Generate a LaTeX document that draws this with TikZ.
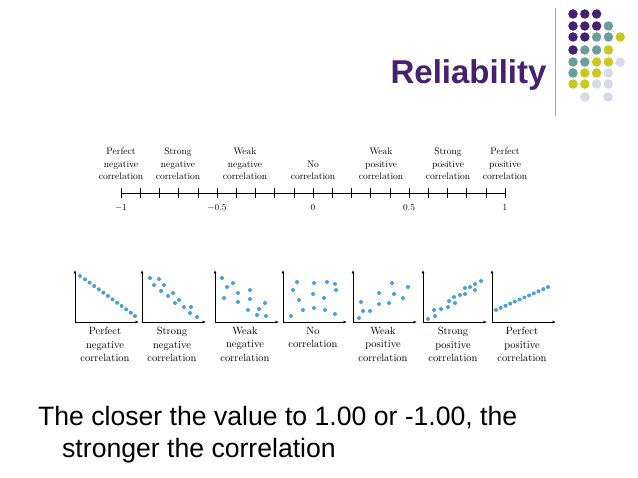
\documentclass[tikz,border=0pt]{standalone}
\usepackage{fontspec}
\newfontfamily\arialf{Liberation Sans}
\usetikzlibrary{arrows.meta}
\definecolor{pur}{HTML}{46216F}
\definecolor{teal}{HTML}{6A9E9E}
\definecolor{yel}{HTML}{C8C81E}
\definecolor{lav}{HTML}{D8D8EA}
\definecolor{dotb}{HTML}{4A9FD5}
\tikzset{
  lab/.style={font=\fontsize{9.5}{12.5}\selectfont, align=center, inner sep=0},
  slab/.style={font=\fontsize{10.5}{13.5}\selectfont, align=center, inner sep=0},
  sdot/.style={fill=dotb, draw=none},
  ax/.style={line width=0.7pt, -{Latex[length=3.5pt,width=3pt]}},
  gdot/.style={circle, inner sep=0, minimum size=9.5pt, draw=none}
}
\begin{document}
\begin{tikzpicture}[x=1pt,y=-1pt]
\useasboundingbox (0,0) rectangle (638,478);
% grid of dots
\foreach \r/\y/\cols in {1/14/{pur,pur,pur},2/26/{pur,pur,pur,teal},3/37/{pur,pur,teal,teal,yel},4/50/{pur,teal,teal,yel},5/62/{teal,teal,yel,yel,lav},6/73/{teal,yel,yel,lav},7/84/{yel,yel,lav,lav}}{
  \foreach \c [count=\i] in \cols {\node[gdot, fill=\c] (g\r\i) at ({573+11.8*(\i-1)},\y) {};}}
\node[gdot, fill=lav] (g82) at (585,97) {};
\node[gdot, fill=lav] (g84) at (608,97) {};
\coordinate (vt) at (555,8); \coordinate (vb) at (555,116);
\draw[gray!70, line width=0.8pt] (vt) -- (vb);
\node[anchor=east, font=\arialf\bfseries\fontsize{33}{37}\selectfont, text=pur] (title) at (550,75) {Reliability};
% number line
\coordinate (nl) at (121,193); \coordinate (nr) at (505,193);
\draw[line width=0.6pt] (nl) -- (nr);
\foreach \i in {0,...,20} \draw[line width=0.6pt] ({121+19.2*\i},188) -- ({121+19.2*\i},198);
\foreach \v/\x in {{$-1$}/121,{$-0.5$}/217,{0}/313,{0.5}/409,{1}/505}
  \node[lab, font=\fontsize{9}{11}\selectfont] at (\x,208) {\v};
\node[lab] (t1) at (121,164) {Perfect\\negative\\correlation};
\node[lab] (t2) at (178,164) {Strong\\negative\\correlation};
\node[lab] (t3) at (245,164) {Weak\\negative\\correlation};
\node[lab] (t4) at (313,170.5) {No\\correlation};
\node[lab] (t5) at (381,164) {Weak\\positive\\correlation};
\node[lab] (t6) at (448,164) {Strong\\positive\\correlation};
\node[lab] (t7) at (505,164) {Perfect\\positive\\correlation};
% scatter panels
\foreach \px/\pts/\txt in {
 75/{(5,46),(10,42.7),(14.6,39.3),(19.2,36),(23.8,32.7),(28.3,29.3),(32.9,26),(37.5,22.7),(42.1,19.3),(46.7,16),(51.2,12.7),(55.8,9.3),(60,6)}/{Perfect\\negative\\correlation},
 142/{(8,44),(12,37),(17,43),(22,37),(19,31),(26,26),(31,29),(33,19),(37,22),(42,15),(49,15),(48,9),(55,5)}/{Strong\\negative\\correlation},
 215/{(7,44),(12,35),(18,39),(9,24),(23,29),(23,20),(35,32),(35,23),(33,12),(42,7),(44,13),(50,19),(51,6)}/{Weak\\negative\\correlation},
 283/{(8,6),(10,32),(14,40),(16,22),(20,12),(31,39),(30,28),(31,14),(41,24),(44,40),(42,12),(52,38),(52,8),(53,32)}/{No\\correlation\\\phantom{x}},
 353/{(6,4),(8,20),(10,11),(17,11),(26,29),(26,18),(36,19),(39,39),(41,28),(50,24),(55,35)}/{Weak\\positive\\correlation},
 423/{(5,3),(11,12),(12,6),(18,13),(25,15),(26,21),(31,25),(32,19),(37,27),(42,28),(42,34),(47,35),(52,38),(52,32),(58,41)}/{Strong\\positive\\correlation},
 492/{(4,12),(8.7,14.1),(13.5,16.2),(18.2,18.3),(22.9,20.4),(27.6,22.5),(32.4,24.5),(37.1,26.6),(41.8,28.7),(46.5,30.8),(51.3,32.9),(56,35)}/{Perfect\\positive\\correlation}}{
  \begin{scope}[shift={(\px,322)}]
    \coordinate (o) at (0,0); \coordinate (yt) at (0,-52); \coordinate (xr) at (64,0);
    \draw[ax] (o) -- (yt);
    \draw[ax] (o) -- (xr);
    \node[slab, anchor=north] (pl) at (30,5) {\txt};
  \end{scope}
  \begin{scope}[shift={(\px,322)}, y=1pt]
    \foreach \p in \pts \fill[sdot] \p circle[radius=2];
  \end{scope}
}
\node[anchor=west, align=left, font=\arialf\fontsize{26.6}{32}\selectfont, inner sep=0] (bt) at (38,435)
  {The closer the value to 1.00 or -1.00, the\\\hspace*{24pt}stronger the correlation};
\end{tikzpicture}
\end{document}
